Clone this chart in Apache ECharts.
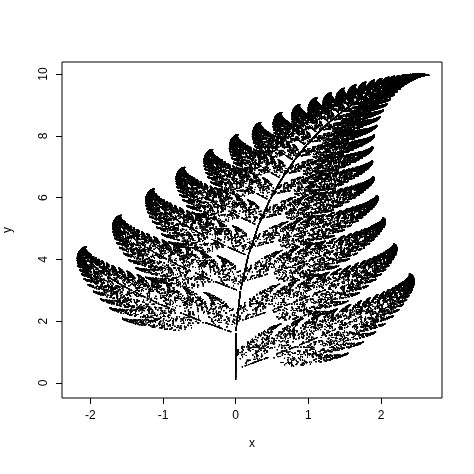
<!DOCTYPE html>
<html>
<head>
<meta charset="utf-8">
<script src="https://cdn.jsdelivr.net/npm/echarts@6/dist/echarts.min.js"></script>
<style>html,body{margin:0;padding:0;background:#fff}#chart{width:474px;height:474px}</style>
</head>
<body>
<div id="chart"></div>
<script>
// Barnsley fern IFS coefficients: x' = a x + b y + e, y' = c x + d y + f
var mapA = [0, 0.85, 0.2, -0.15];
var mapB = [0, 0.04, -0.26, 0.28];
var mapC = [0, -0.04, 0.23, 0.26];
var mapD = [0.16, 0.85, 0.22, 0.24];
var mapE = [0, 0, 0, 0];
var mapF = [0, 1.6, 1.6, 0.44];
var mapP = [0.01, 0.85, 0.07, 0.07];
var xTicks = [-2, -1, 0, 1, 2];
var yTicks = [0, 2, 4, 6, 8, 10];
var nPoints = 50000;

// deterministic chaos game (seeded mulberry32)
var seed = 20240601;
function next() {
    seed = (seed + 0x6D2B79F5) | 0;
    var t = Math.imul(seed ^ (seed >>> 15), 1 | seed);
    t = (t + Math.imul(t ^ (t >>> 7), 61 | t)) ^ t;
    return ((t ^ (t >>> 14)) >>> 0) / 4294967296;
}
var pts = [];
var x = 0, y = 0;
for (var i = 0; i < nPoints; i++) {
    var r = next(), k = 0, acc = mapP[0];
    while (r > acc && k < 3) { k++; acc += mapP[k]; }
    var nx = mapA[k] * x + mapB[k] * y + mapE[k];
    var ny = mapC[k] * x + mapD[k] * y + mapF[k];
    x = nx; y = ny;
    if (i > 20) pts.push([x, y]);
}

var myChart = echarts.init(document.getElementById('chart'));
var lbl = { color: '#000', fontSize: 12, fontFamily: 'Liberation Sans' };
option = {
    animation: false,
    grid: { left: 62, right: 32, top: 62, bottom: 76, show: true, borderColor: '#000', borderWidth: 1,
        containLabel: false, outerBoundsMode: 'none' },
    xAxis: {
        type: 'value', min: -2.39, max: 2.84,
        name: 'x', nameLocation: 'middle', nameGap: 40, nameTextStyle: lbl,
        axisLine: { show: false, onZero: false }, splitLine: { show: false },
        axisTick: { show: true, inside: false, length: 6, lineStyle: { color: '#000' },
            customValues: xTicks },
        axisLabel: Object.assign({ customValues: xTicks, margin: 12 }, lbl)
    },
    yAxis: {
        type: 'value', min: -0.49, max: 10.39,
        name: 'y', nameLocation: 'middle', nameGap: 48, nameTextStyle: lbl,
        axisLine: { show: false, onZero: false }, splitLine: { show: false },
        axisTick: { show: true, length: 6, lineStyle: { color: '#000' }, customValues: yTicks },
        axisLabel: Object.assign({ customValues: yTicks, rotate: 90, margin: 12 }, lbl)
    },
    series: [{
        type: 'scatter', data: pts, symbolSize: 0.9, large: true, largeThreshold: 1000,
        itemStyle: { color: '#000' }
    }]
};
myChart.setOption(option);
</script>
</body>
</html>
